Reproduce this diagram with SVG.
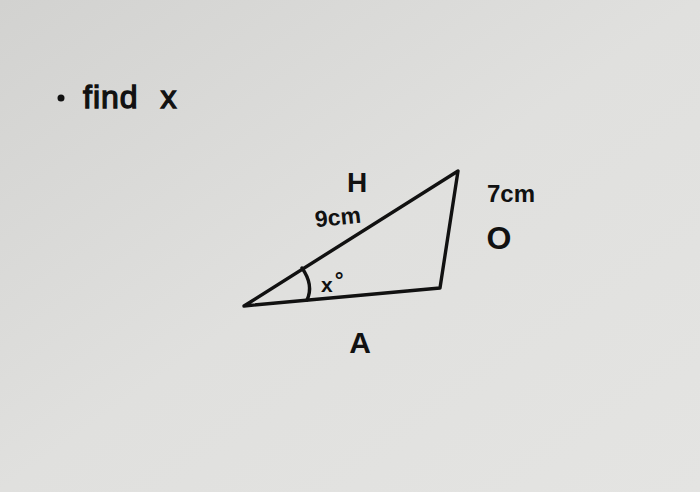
<svg xmlns="http://www.w3.org/2000/svg" width="700" height="492" viewBox="0 0 700 492">
<defs>
<linearGradient id="bg" x1="0" y1="0" x2="1" y2="1">
<stop offset="0" stop-color="#d2d2d0"/>
<stop offset="0.5" stop-color="#e0e0de"/>
<stop offset="1" stop-color="#e4e4e2"/>
</linearGradient>
<style>
.ink{fill:none;stroke:#111;stroke-width:3.4;stroke-linecap:round;stroke-linejoin:round}
.t{fill:#111;font-family:"Liberation Sans",Arial,sans-serif;font-weight:bold}
</style>
</defs>
<rect width="700" height="492" fill="url(#bg)"/>
<g id="title">
<circle cx="61" cy="98" r="3.5" fill="#111"/>
<text class="t" x="83" y="108" font-size="32" style="font-weight:normal" letter-spacing="1" stroke="#111" stroke-width="1.3">find<tspan dx="22">x</tspan></text>
</g>
<g id="triangle">
<path class="ink" d="M244,306 L458,171 L440,288 Z"/>
</g>
<g id="connectors">
<path class="ink" d="M302,268 Q314,285 307,300"/>
</g>
<g id="labels">
<text class="t" x="357" y="192" font-size="28" text-anchor="middle">H</text>
<text class="t" x="338" y="225" font-size="23" text-anchor="middle" transform="rotate(-6 338 218)">9cm</text>
<text class="t" x="511" y="202" font-size="24" text-anchor="middle">7cm</text>
<text class="t" x="499" y="249" font-size="32" text-anchor="middle">O</text>
<text class="t" x="321" y="292" font-size="21">x<tspan dx="2" dy="-4" font-size="22">°</tspan></text>
<text class="t" x="360" y="353" font-size="30" text-anchor="middle">A</text>
</g>
</svg>
